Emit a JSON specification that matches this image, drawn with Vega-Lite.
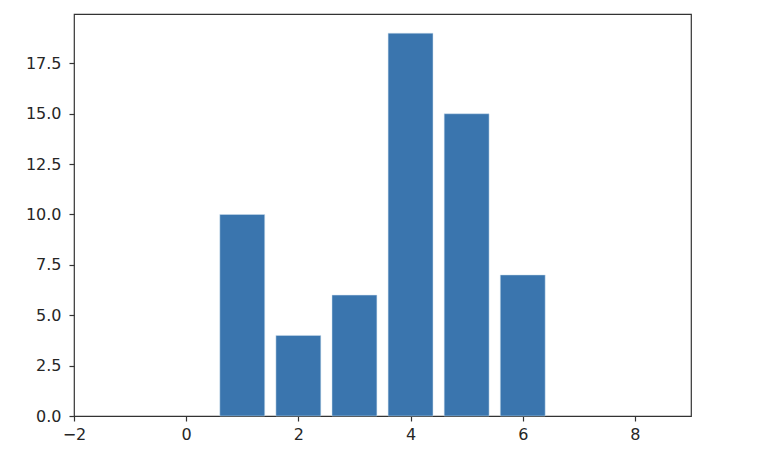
{
  "$schema": "https://vega.github.io/schema/vega-lite/v6.json",
  "width": 617,
  "height": 402,
  "autosize": {"type": "none"},
  "padding": {"left": 74, "top": 14, "right": 77, "bottom": 55},
  "background": "white",
  "config": {
    "view": {"stroke": "#333333", "strokeWidth": 1.2},
    "axis": {
      "grid": false,
      "domain": false,
      "tickColor": "#333333",
      "tickSize": 5,
      "tickWidth": 1.2,
      "labelFont": "DejaVu Sans",
      "labelFontSize": 16,
      "labelColor": "#262626",
      "title": null
    },
    "axisX": {"labelPadding": 5},
    "axisY": {"labelPadding": 8}
  },
  "data": {
    "values": [
      {"x": 1, "value": 10},
      {"x": 2, "value": 4},
      {"x": 3, "value": 6},
      {"x": 4, "value": 19},
      {"x": 5, "value": 15},
      {"x": 6, "value": 7}
    ]
  },
  "mark": {"type": "bar", "width": 44.9, "color": "#3a75ae", "stroke": "#cfe0ef", "strokeWidth": 0.5},
  "encoding": {
    "x": {
      "field": "x",
      "type": "quantitative",
      "scale": {"domain": [-2, 9], "nice": false, "zero": false, "padding": 0},
      "axis": {"values": [-2, 0, 2, 4, 6, 8], "format": "d", "labelFlush": false}
    },
    "y": {
      "field": "value",
      "type": "quantitative",
      "scale": {"domain": [0, 19.95], "nice": false, "padding": 0},
      "axis": {"values": [0, 2.5, 5, 7.5, 10, 12.5, 15, 17.5], "format": ".1f", "labelFlush": false}
    }
  }
}
